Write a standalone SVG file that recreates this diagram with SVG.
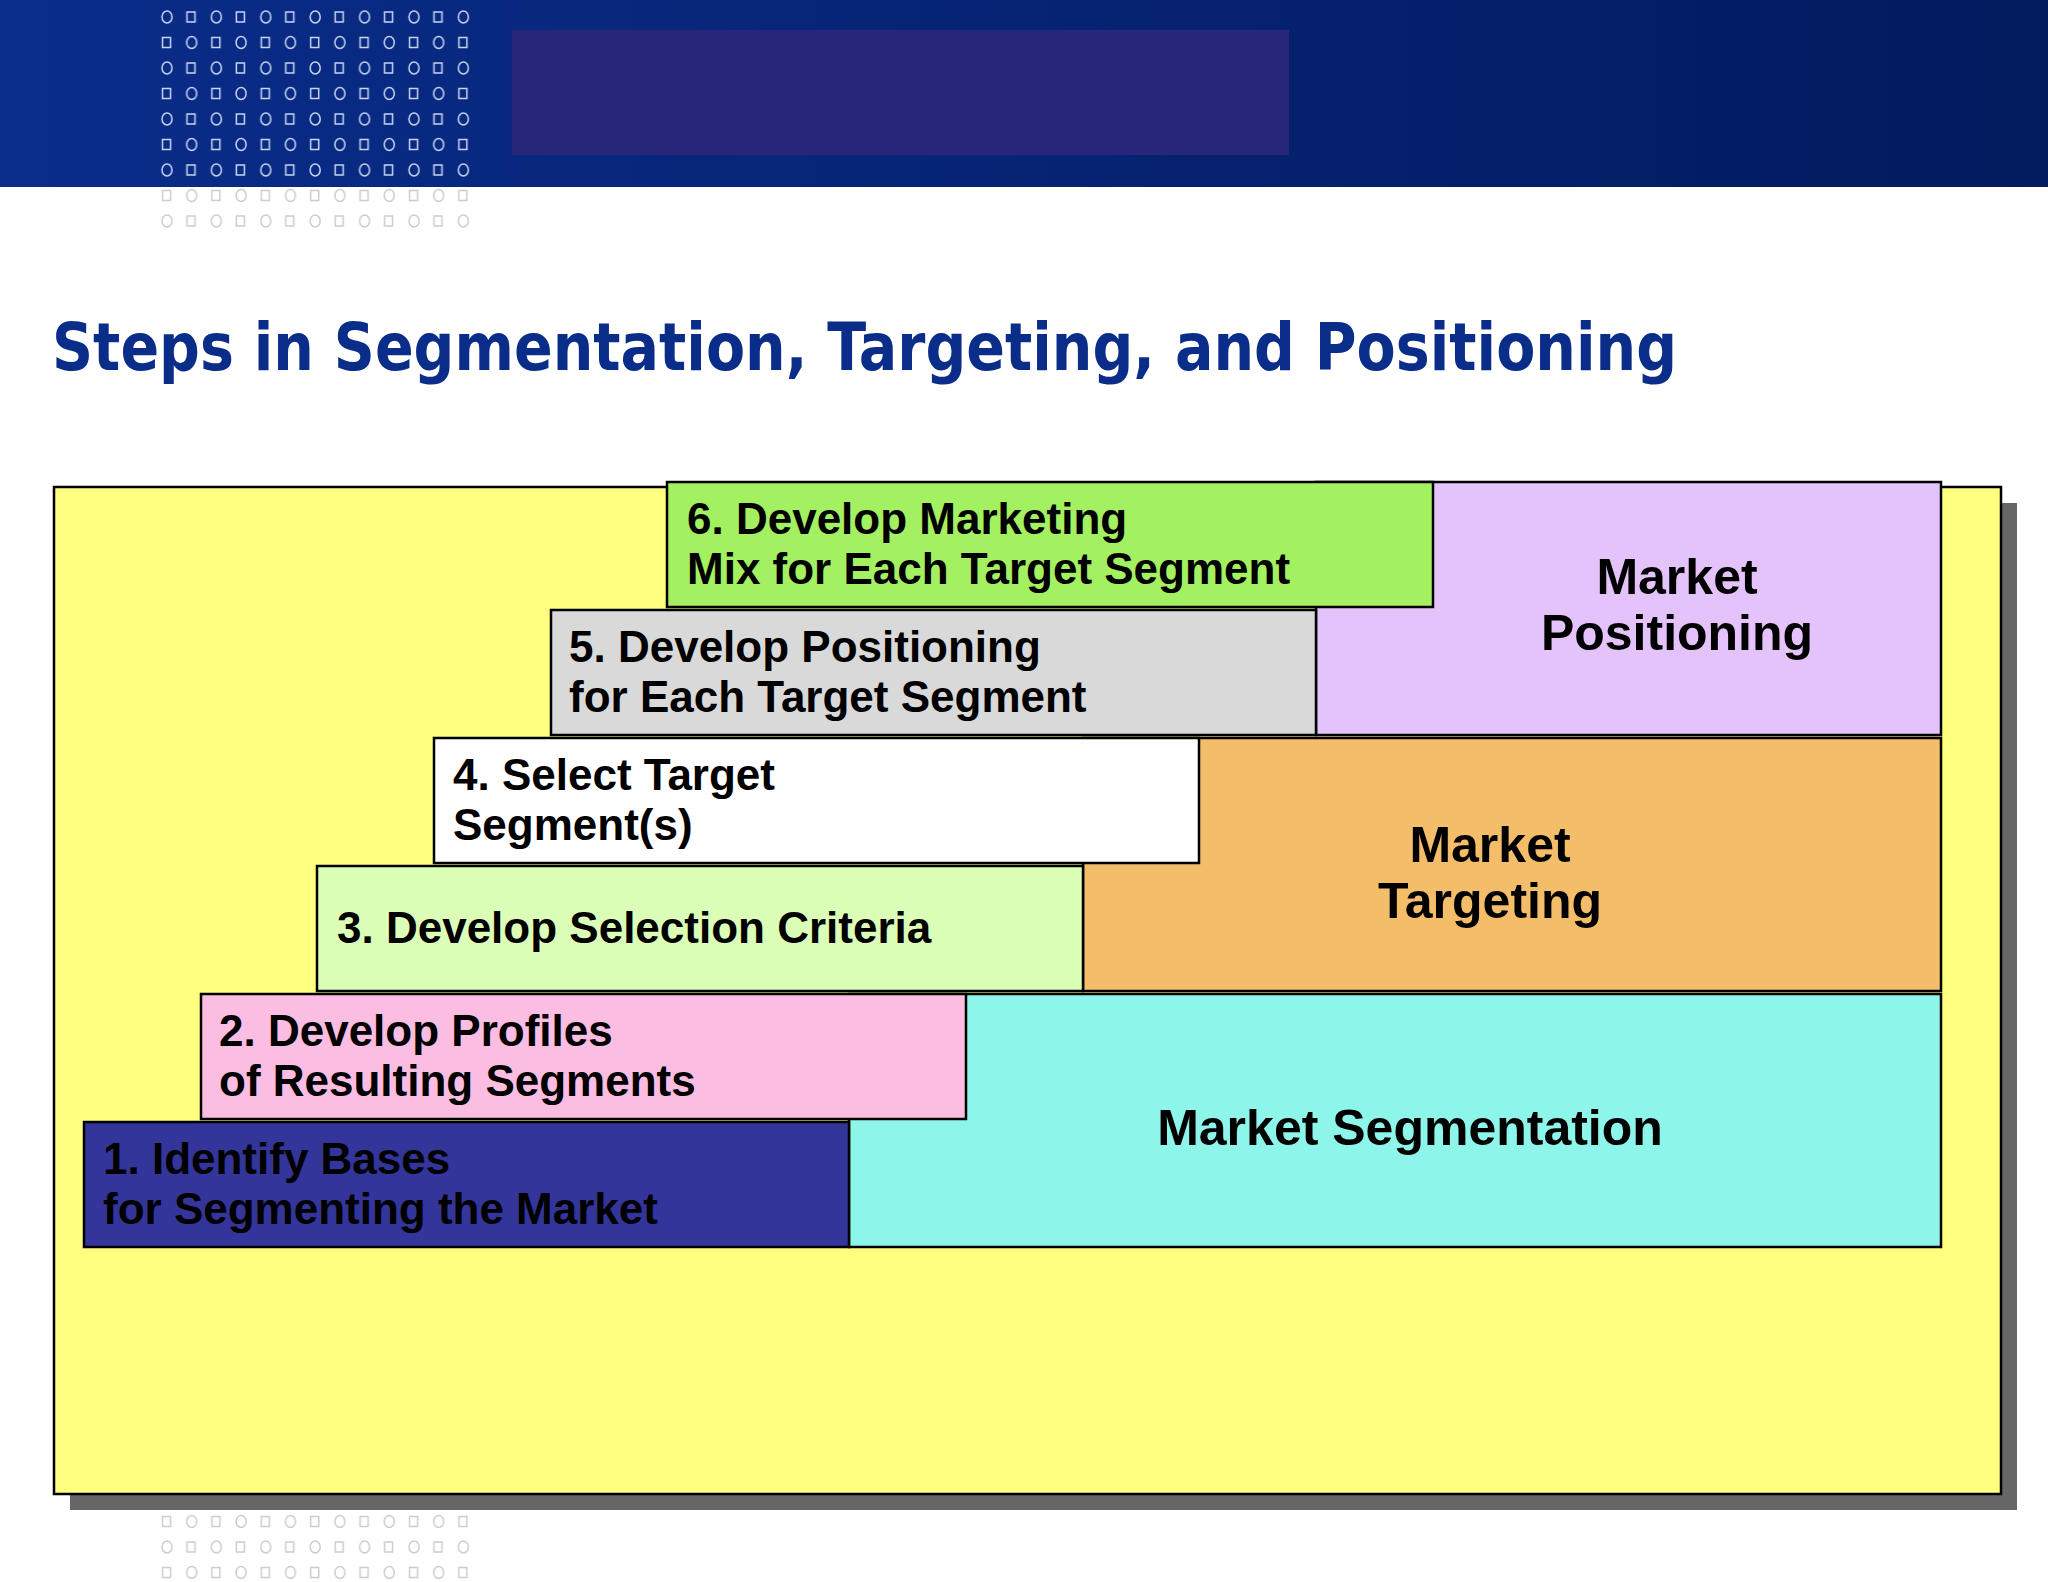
<svg xmlns="http://www.w3.org/2000/svg" width="2048" height="1582" viewBox="0 0 2048 1582">
<defs>
<linearGradient id="hdr" x1="0" y1="0" x2="1" y2="0"><stop offset="0" stop-color="#0a2d8a"/><stop offset="1" stop-color="#021a5e"/></linearGradient>
<pattern id="dots" x="155" y="5" width="49.4" height="51" patternUnits="userSpaceOnUse">
<ellipse cx="12" cy="12" rx="5" ry="6" fill="none" stroke="#c8d4f0" stroke-width="1.5"/>
<rect x="32" y="7" width="8" height="10" fill="none" stroke="#c8d4f0" stroke-width="1.5"/>
<rect x="7.5" y="32.5" width="8" height="10" fill="none" stroke="#c8d4f0" stroke-width="1.5"/>
<ellipse cx="36.7" cy="37.5" rx="5" ry="6" fill="none" stroke="#c8d4f0" stroke-width="1.5"/>
</pattern>
<pattern id="dotsg" x="155" y="5" width="49.4" height="51" patternUnits="userSpaceOnUse">
<ellipse cx="12" cy="12" rx="5" ry="6" fill="none" stroke="#cccccc" stroke-width="1.5"/>
<rect x="32" y="7" width="8" height="10" fill="none" stroke="#cccccc" stroke-width="1.5"/>
<rect x="7.5" y="32.5" width="8" height="10" fill="none" stroke="#cccccc" stroke-width="1.5"/>
<ellipse cx="36.7" cy="37.5" rx="5" ry="6" fill="none" stroke="#cccccc" stroke-width="1.5"/>
</pattern>
</defs>
<style>
.b{stroke:#000;stroke-width:2.5}
.t{font-family:"Liberation Sans",Arial,sans-serif;font-weight:bold;font-size:44px;fill:#000}
.h{font-family:"Liberation Sans",Arial,sans-serif;font-weight:bold;font-size:50px;fill:#000;text-anchor:middle}
</style>
<rect width="2048" height="1582" fill="#fff"/>
<g id="header">
<rect x="0" y="0" width="2048" height="187" fill="url(#hdr)"/>
<rect x="512" y="30" width="777" height="125" fill="#27267a"/>
<rect x="155" y="5" width="321" height="180" fill="url(#dots)"/>
<rect x="155" y="185" width="321" height="46" fill="url(#dotsg)"/>
<rect x="155" y="1508" width="321" height="74" fill="url(#dotsg)"/>
</g>
<text id="title" x="52" y="370" font-family="DejaVu Sans,Verdana,sans-serif" font-weight="bold" font-size="66" fill="#0a2d8a" textLength="1625" lengthAdjust="spacingAndGlyphs">Steps in Segmentation, Targeting, and Positioning</text>
<g id="panel">
<rect x="70" y="503" width="1947" height="1007" fill="#666"/>
<rect x="54" y="487" width="1947" height="1007" fill="#ffff80" class="b"/>
</g>
<g id="market-positioning"><rect x="1316" y="482" width="625" height="253" fill="#e4c2fa" class="b"/><text class="h" x="1677" y="594">Market</text><text class="h" x="1677" y="650">Positioning</text></g>
<g id="market-targeting"><rect x="1083" y="738" width="858" height="253" fill="#f4bd6a" class="b"/><text class="h" x="1490" y="862">Market</text><text class="h" x="1490" y="918">Targeting</text></g>
<g id="market-segmentation"><rect x="849" y="994" width="1092" height="253" fill="#8ef5eb" class="b"/><text class="h" x="1410" y="1145">Market Segmentation</text></g>
<g id="step6"><rect x="667" y="482" width="766" height="125" fill="#a3f060" class="b"/><text class="t" x="687" y="534">6.  Develop Marketing</text><text class="t" x="687" y="584">Mix for Each Target Segment</text></g>
<g id="step5"><rect x="551" y="610" width="765" height="125" fill="#d9d9d9" class="b"/><text class="t" x="569" y="662">5.  Develop Positioning</text><text class="t" x="569" y="712">for Each Target Segment</text></g>
<g id="step4"><rect x="434" y="738" width="765" height="125" fill="#fff" class="b"/><text class="t" x="453" y="790">4.  Select Target</text><text class="t" x="453" y="840">Segment(s)</text></g>
<g id="step3"><rect x="317" y="866" width="766" height="125" fill="#dcffb8" class="b"/><text class="t" x="337" y="943">3.  Develop Selection Criteria</text></g>
<g id="step2"><rect x="201" y="994" width="765" height="125" fill="#fbbde2" class="b"/><text class="t" x="219" y="1046">2.  Develop Profiles</text><text class="t" x="219" y="1096">of Resulting Segments</text></g>
<g id="step1"><rect x="84" y="1122" width="765" height="125" fill="#34359a" class="b"/><text class="t" x="103" y="1174">1.  Identify Bases</text><text class="t" x="103" y="1224">for Segmenting the Market</text></g>
<g id="connectors"/>
</svg>
